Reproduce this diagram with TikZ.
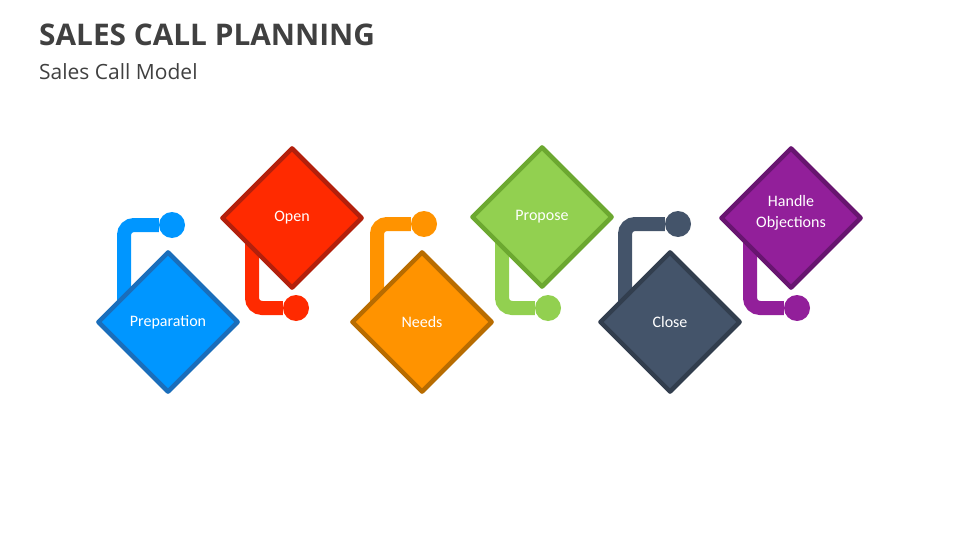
\documentclass[tikz,border=0pt]{standalone}
\usepackage{fontspec}
\setmainfont{Carlito}
\newfontfamily\tieudefont{Open Sans}
\usetikzlibrary{shapes.geometric,backgrounds,shadows}
\definecolor{xanhnen}{HTML}{0096FF}\definecolor{xanhvien}{HTML}{1A6EBB}
\definecolor{donen}{HTML}{FF2A00}\definecolor{dovien}{HTML}{B3200C}
\definecolor{camnen}{HTML}{FF9300}\definecolor{camvien}{HTML}{B86C00}
\definecolor{lucnen}{HTML}{92D050}\definecolor{lucvien}{HTML}{6CA830}
\definecolor{xamnen}{HTML}{44546A}\definecolor{xamvien}{HTML}{323E4E}
\definecolor{timnen}{HTML}{921F9A}\definecolor{timvien}{HTML}{681570}
\definecolor{chu}{HTML}{404040}
\tikzset{
  buoc/.style 2 args={diamond,aspect=1,minimum width=141pt,minimum height=141pt,inner sep=0pt,
    fill=#1,draw=#2,line width=4.5pt,text=white,align=center,font=\fontsize{16}{21}\selectfont,
    drop shadow={shadow xshift=1.5pt,shadow yshift=-1.5pt,opacity=0.3}},
  cham/.style={circle,fill=#1,minimum size=26pt,inner sep=0pt},
  noi/.style={draw=#1,line width=14pt,rounded corners=10pt}
}
\begin{document}
\begin{tikzpicture}[x=1pt,y=-1pt,line join=round,line cap=round]
\useasboundingbox (0,0) rectangle (960,540);
%Tieu de
\node[anchor=base west,inner sep=0pt,text=chu,font=\tieudefont\bfseries\fontsize{29.8}{34}\selectfont] (tieude) at (39,46) {SALES CALL PLANNING};
\node[anchor=base west,inner sep=0pt,text=chu,font=\tieudefont\fontsize{21}{25}\selectfont] (phude) at (39,80) {Sales Call Model};
%Cac buoc
\node[buoc={xanhnen}{xanhvien}] (prep) at (168,322) {Preparation};
\node[buoc={donen}{dovien}] (open) at (292,218) {Open};
\node[buoc={camnen}{camvien}] (needs) at (422,322) {Needs};
\node[buoc={lucnen}{lucvien}] (propose) at (542,217) {Propose};
\node[buoc={xamnen}{xamvien}] (close) at (670,322) {Close};
\node[buoc={timnen}{timvien}] (handle) at (791,218) {};
\node[text=white,align=center,font=\fontsize{16}{21}\selectfont,inner sep=0pt] (handletxt) at (791,213) {Handle\\Objections};
%Cham tron
\node[cham=xanhnen] (dprep) at (172,225) {};
\node[cham=donen] (dopen) at (296,308) {};
\node[cham=camnen] (dneeds) at (424,224) {};
\node[cham=lucnen] (dpropose) at (548,308) {};
\node[cham=xamnen] (dclose) at (678,224) {};
\node[cham=timnen] (dhandle) at (797,308) {};
%Ve duong noi
\begin{pgfonlayer}{background}
\draw[noi=xanhnen] ([xshift=-44pt]prep.center)|-(dprep);
\draw[noi=donen] ([xshift=-40pt]open.center)|-(dopen);
\draw[noi=camnen] ([xshift=-45pt]needs.center)|-(dneeds);
\draw[noi=lucnen] ([xshift=-40pt]propose.center)|-(dpropose);
\draw[noi=xamnen] ([xshift=-45pt]close.center)|-(dclose);
\draw[noi=timnen] ([xshift=-41pt]handle.center)|-(dhandle);
\end{pgfonlayer}
\end{tikzpicture}
\end{document}
